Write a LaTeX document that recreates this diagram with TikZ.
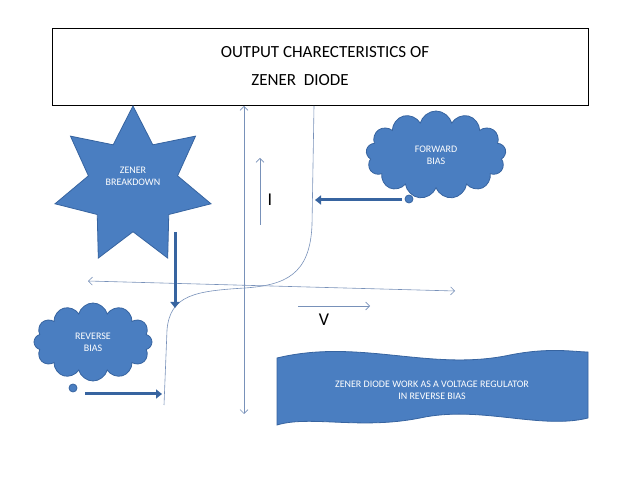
\documentclass[tikz,border=0pt]{standalone}
\usepackage{fontspec}
\setmainfont{Carlito}
\usetikzlibrary{shapes.geometric,shapes.symbols,arrows.meta}
\definecolor{bl}{RGB}{74,126,193}
\definecolor{bld}{RGB}{55,100,160}
\definecolor{ax}{RGB}{120,145,185}
\tikzset{
 shp/.style={fill=bl,draw=bld,line width=0.8pt,text=white,font=\fontsize{10}{12}\selectfont,align=center},
 axis/.style={draw=ax,line width=0.6pt,{Straight Barb[length=4pt]}-{Straight Barb[length=4pt]}},
 thin/.style={draw=ax,line width=0.6pt,-{Straight Barb[length=4pt]}},
 fat/.style={draw=bld,line width=3pt,-{Triangle[length=6pt,width=9pt]}},
}
\begin{document}
\begin{tikzpicture}[x=1pt,y=-1pt]
\useasboundingbox (0,0) rectangle (638,478);
\node[draw,line width=1pt,minimum width=536pt,minimum height=77pt,anchor=north west] (title) at (52,28) {};
\node[font=\fontsize{17}{20}\selectfont] (t1) at (325,52) {OUTPUT CHARECTERISTICS OF};
\node[font=\fontsize{17}{20}\selectfont] (t2) at (300,80) {ZENER\ \ DIODE};
\coordinate (vt) at (244,106); \coordinate (vb) at (244,414);
\coordinate (hl) at (88,281); \coordinate (hr) at (455,291);
\draw[axis] (vt) -- (vb);
\draw[axis] (hl) -- (hr);
\draw[draw=ax,line width=0.6pt] (314,106) -- (312,225) .. controls (310,275) and (285,285) .. (245,288)
  .. controls (195,291) and (170,295) .. (167,330) -- (164,405);
\coordinate (ia) at (260,225); \coordinate (ib) at (260,158);
\draw[thin] (ia) -- (ib);
\node[font=\fontsize{18}{20}\selectfont] (I) at (270,200) {I};
\coordinate (va) at (298,306); \coordinate (vv) at (370,306);
\draw[thin] (va) -- (vv);
\node[font=\fontsize{18}{20}\selectfont] (V) at (324,320) {V};
\node[shp,star,star points=7,star point ratio=1.75,minimum size=160pt,inner sep=0pt] (star) at (133,186) {};
\node[text=white,font=\fontsize{10}{12}\selectfont,align=center] (st) at (133,176) {ZENER\\BREAKDOWN};
\coordinate (s1) at (175,232); \coordinate (s2) at (175,308);
\draw[fat] (s1) -- (s2);
\node[shp,cloud,cloud puffs=13,aspect=1.6,minimum width=140pt,minimum height=88pt] (fb) at (436,155) {FORWARD\\BIAS};
\draw[shp] (409,199) circle (4pt);
\coordinate (f1) at (402,200); \coordinate (f2) at (315,200);
\draw[fat] (f1) -- (f2);
\node[shp,cloud,cloud puffs=12,aspect=1.5,minimum width=118pt,minimum height=78pt] (rb) at (93,342) {REVERSE\\BIAS};
\draw[shp] (73,388) circle (4pt);
\coordinate (r1) at (85,394); \coordinate (r2) at (162,394);
\draw[fat] (r1) -- (r2);
\path[shp] (277,358) .. controls (360,338) and (430,372) .. (510,355) .. controls (550,347) and (575,352) .. (588,352)
  -- (588,418) .. controls (540,430) and (480,405) .. (420,418) .. controls (360,430) and (310,415) .. (277,425) -- cycle;
\node[text=white,font=\fontsize{10}{12}\selectfont,align=center] (bt) at (432,390) {ZENER DIODE WORK AS A VOLTAGE REGULATOR\\IN REVERSE BIAS};
\end{tikzpicture}
\end{document}
